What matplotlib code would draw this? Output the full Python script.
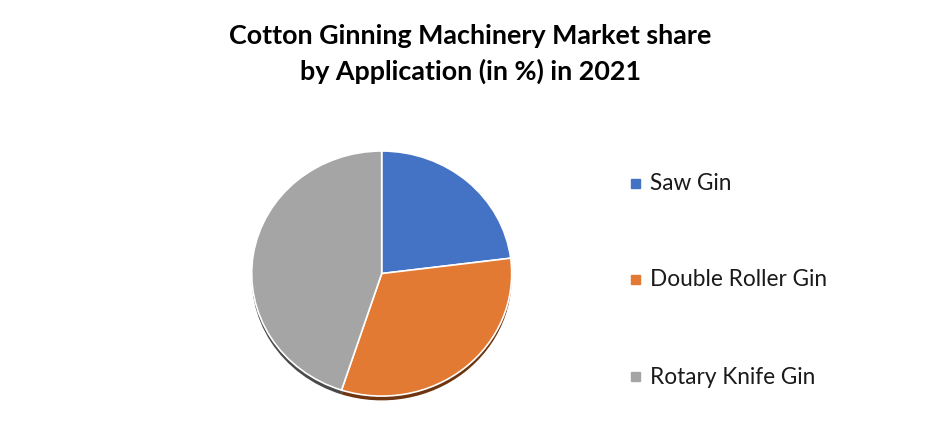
import matplotlib
matplotlib.use('Agg')
import matplotlib.pyplot as plt
from matplotlib.patches import Rectangle

# Dane
labels = ['Saw Gin', 'Double Roller Gin', 'Rotary Knife Gin']
shares = [23, 32, 45]
colors = ['#4472C4', '#E27A34', '#A5A5A5']
shadow_colors = ['#2b4a80', '#6e3510', '#4a4a4a']

plt.rcParams['font.family'] = ['Lato', 'DejaVu Sans']

fig = plt.figure(figsize=(9.40, 4.47), dpi=100)

# pie area (slightly wider than tall, like the original)
ax = fig.add_axes([251.7 / 940, (447 - 401) / 447, 260 / 940, 250 / 447])

# cien pod spodem
ax.pie(shares, colors=shadow_colors, startangle=90, counterclock=False,
       radius=1.0, center=(0, -0.035), wedgeprops=dict(linewidth=0))
ax.pie(shares, colors=colors, startangle=90, counterclock=False,
       radius=1.0, center=(0, 0),
       wedgeprops=dict(edgecolor='white', linewidth=1.2))
ax.set_aspect('auto')
ax.set_xlim(-1, 1)
ax.set_ylim(-1.04, 1.0)
ax.axis('off')

fig.text(0.5, 1 - 36 / 447, 'Cotton Ginning Machinery Market share',
         ha='center', va='center', fontsize=19.4, fontweight='bold')
fig.text(0.5, 1 - 71 / 447, 'by Application (in %) in 2021',
         ha='center', va='center', fontsize=19.4, fontweight='bold')

# legenda
legend_y = [184, 280, 377]
for lab, col, yy in zip(labels, colors, legend_y):
    fig.patches.append(Rectangle((631 / 940, 1 - (yy + 4) / 447), 9 / 940, 9 / 447,
                                 transform=fig.transFigure, color=col, figure=fig))
    fig.text(650 / 940, 1 - yy / 447, lab, ha='left', va='center', fontsize=16.3,
             color='#1a1a1a')

plt.savefig('out.png', dpi=100)
